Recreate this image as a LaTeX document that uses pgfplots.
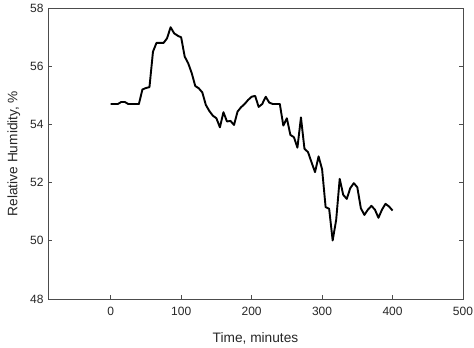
\documentclass[border=0pt]{standalone}
\usepackage{pgfplots}
\pgfplotsset{compat=1.18}
\usepackage{fontspec}
\setmainfont{Liberation Sans}
\begin{document}
\begin{tikzpicture}[x=1pt,y=1pt]
\begin{axis}[
  name=ax,
  at={(48pt,49pt)}, anchor=south west,
  scale only axis, width=415pt, height=291pt,
  xmin=-89, xmax=500, ymin=48, ymax=58,
  xtick={0,100,200,300,400,500}, ytick={48,50,52,54,56,58},
  tick align=inside,
  xtick pos=bottom,
  ytick pos=both,
  major tick length=4pt,
  axis line style={draw=black!70, line width=0.9pt},
  tick style={draw=black!70, line width=0.9pt},
  /pgf/number format/assume math mode=true,
  tick label style={font=\fontsize{12}{14}\selectfont, text=black!85},
  xticklabel style={yshift=-5pt},
  yticklabel style={xshift=-1pt},
  label style={font=\fontsize{13.7}{16}\selectfont, text=black!85},
  xlabel={Time, minutes},
  ylabel={Relative Humidity, \%},
  xlabel style={at={(axis description cs:0.5,0)}, anchor=north, yshift=-30pt},
  ylabel style={yshift=3pt},
]
\addplot[black, line width=1.9pt, line join=round] coordinates {
(0,54.7)(5,54.7)(10,54.7)(15,54.77)(20,54.77)(25,54.7)(30,54.7)(35,54.7)(40,54.7)
(45,55.2)(50,55.25)(55,55.28)(60,56.5)(65,56.8)(70,56.8)(75,56.8)(80,56.96)
(85,57.34)(90,57.13)(95,57.05)(100,56.99)(105,56.33)(110,56.1)(115,55.76)
(120,55.32)(125,55.24)(130,55.1)(135,54.67)(140,54.46)(145,54.3)(150,54.21)
(155,53.9)(160,54.42)(165,54.1)(170,54.12)(175,53.98)(180,54.44)(185,54.59)
(190,54.7)(195,54.84)(200,54.95)(205,54.98)(210,54.6)(215,54.7)(220,54.95)
(225,54.75)(230,54.7)(235,54.7)(240,54.7)(245,53.96)(250,54.21)(255,53.64)
(260,53.56)(265,53.2)(270,54.24)(275,53.16)(280,53.05)(285,52.7)(290,52.36)
(295,52.9)(300,52.46)(305,51.16)(310,51.1)(315,50.01)(320,50.72)(325,52.13)
(330,51.58)(335,51.44)(340,51.81)(345,51.98)(350,51.84)(355,51.12)(360,50.89)
(365,51.07)(370,51.2)(375,51.07)(380,50.79)(385,51.07)(390,51.27)(395,51.18)
(400,51.04)
};
\end{axis}
\pgfresetboundingbox
\path[use as bounding box] (0,0) rectangle (474,348);
\end{tikzpicture}
\end{document}
